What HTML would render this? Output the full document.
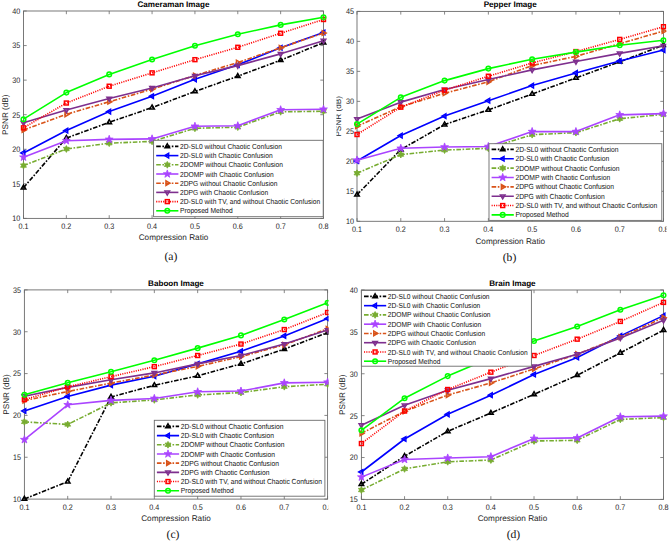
<!DOCTYPE html>
<html><head><meta charset="utf-8"><title>PSNR comparison</title>
<style>html,body{margin:0;padding:0;background:#fff;}svg{display:block;}text{text-rendering:geometricPrecision;}text{font-family:"Liberation Sans",sans-serif;fill:#1e1e1e;}.tl{font-size:7.2px;}.lg{font-size:6.8px;fill:#111;}.ti{font-size:8.1px;font-weight:bold;fill:#000;}.al{font-size:8.2px;}.cap{font-family:"Liberation Serif",serif;font-size:11.6px;fill:#111;}</style></head><body>
<svg width="669" height="542" viewBox="0 0 669 542">
<rect width="669" height="542" fill="#fff"/>
<clipPath id="cpa"><rect x="0" y="0" width="334" height="270"/></clipPath>
<g clip-path="url(#cpa)">
<rect x="23.5" y="11.0" width="300.00" height="207.40" fill="#fff" stroke="#6b6b6b" stroke-width="0.9"/>
<path d="M23.50,218.40v-3.2M23.50,11.00v3.2M66.36,218.40v-3.2M66.36,11.00v3.2M109.21,218.40v-3.2M109.21,11.00v3.2M152.07,218.40v-3.2M152.07,11.00v3.2M194.93,218.40v-3.2M194.93,11.00v3.2M237.79,218.40v-3.2M237.79,11.00v3.2M280.64,218.40v-3.2M280.64,11.00v3.2M323.50,218.40v-3.2M323.50,11.00v3.2M23.50,218.40h3.2M323.50,218.40h-3.2M23.50,183.83h3.2M323.50,183.83h-3.2M23.50,149.27h3.2M323.50,149.27h-3.2M23.50,114.70h3.2M323.50,114.70h-3.2M23.50,80.13h3.2M323.50,80.13h-3.2M23.50,45.57h3.2M323.50,45.57h-3.2M23.50,11.00h3.2M323.50,11.00h-3.2" stroke="#6b6b6b" stroke-width="0.8" fill="none"/>
<text transform="translate(23.50,229.3) scale(1,1.12)" class="tl" text-anchor="middle">0.1</text>
<text transform="translate(66.36,229.3) scale(1,1.12)" class="tl" text-anchor="middle">0.2</text>
<text transform="translate(109.21,229.3) scale(1,1.12)" class="tl" text-anchor="middle">0.3</text>
<text transform="translate(152.07,229.3) scale(1,1.12)" class="tl" text-anchor="middle">0.4</text>
<text transform="translate(194.93,229.3) scale(1,1.12)" class="tl" text-anchor="middle">0.5</text>
<text transform="translate(237.79,229.3) scale(1,1.12)" class="tl" text-anchor="middle">0.6</text>
<text transform="translate(280.64,229.3) scale(1,1.12)" class="tl" text-anchor="middle">0.7</text>
<text transform="translate(323.50,229.3) scale(1,1.12)" class="tl" text-anchor="middle">0.8</text>
<text transform="translate(20.3,221.30) scale(1,1.12)" class="tl" text-anchor="end">10</text>
<text transform="translate(20.3,186.73) scale(1,1.12)" class="tl" text-anchor="end">15</text>
<text transform="translate(20.3,152.17) scale(1,1.12)" class="tl" text-anchor="end">20</text>
<text transform="translate(20.3,117.60) scale(1,1.12)" class="tl" text-anchor="end">25</text>
<text transform="translate(20.3,83.03) scale(1,1.12)" class="tl" text-anchor="end">30</text>
<text transform="translate(20.3,48.47) scale(1,1.12)" class="tl" text-anchor="end">35</text>
<text transform="translate(20.3,13.90) scale(1,1.12)" class="tl" text-anchor="end">40</text>
<polyline points="23.50,187.70 66.36,138.07 109.21,122.37 152.07,107.58 194.93,91.47 237.79,76.19 280.64,60.22 323.50,42.66" fill="none" stroke="#000000" stroke-width="1.6" stroke-dasharray="4.6 1.6 1.6 1.6" stroke-linejoin="round"/>
<path d="M23.50,185.05 L25.79,189.03 L21.21,189.03 Z" fill="none" stroke="#000000" stroke-width="1.5" stroke-linejoin="miter"/>
<path d="M66.36,135.42 L68.65,139.39 L64.06,139.39 Z" fill="none" stroke="#000000" stroke-width="1.5" stroke-linejoin="miter"/>
<path d="M109.21,119.72 L111.51,123.70 L106.92,123.70 Z" fill="none" stroke="#000000" stroke-width="1.5" stroke-linejoin="miter"/>
<path d="M152.07,104.93 L154.37,108.90 L149.78,108.90 Z" fill="none" stroke="#000000" stroke-width="1.5" stroke-linejoin="miter"/>
<path d="M194.93,88.82 L197.22,92.80 L192.63,92.80 Z" fill="none" stroke="#000000" stroke-width="1.5" stroke-linejoin="miter"/>
<path d="M237.79,73.54 L240.08,77.52 L235.49,77.52 Z" fill="none" stroke="#000000" stroke-width="1.5" stroke-linejoin="miter"/>
<path d="M280.64,57.57 L282.94,61.55 L278.35,61.55 Z" fill="none" stroke="#000000" stroke-width="1.5" stroke-linejoin="miter"/>
<path d="M323.50,40.01 L325.79,43.99 L321.21,43.99 Z" fill="none" stroke="#000000" stroke-width="1.5" stroke-linejoin="miter"/>
<polyline points="23.50,152.93 66.36,130.53 109.21,111.59 152.07,96.24 194.93,79.30 237.79,64.79 280.64,47.78 323.50,32.50" fill="none" stroke="#0000FF" stroke-width="1.6" stroke-linejoin="round"/>
<path d="M20.85,152.93 L24.82,150.64 L24.82,155.23 Z" fill="none" stroke="#0000FF" stroke-width="1.5" stroke-linejoin="miter"/>
<path d="M63.71,130.53 L67.68,128.24 L67.68,132.83 Z" fill="none" stroke="#0000FF" stroke-width="1.5" stroke-linejoin="miter"/>
<path d="M106.56,111.59 L110.54,109.29 L110.54,113.88 Z" fill="none" stroke="#0000FF" stroke-width="1.5" stroke-linejoin="miter"/>
<path d="M149.42,96.24 L153.40,93.95 L153.40,98.54 Z" fill="none" stroke="#0000FF" stroke-width="1.5" stroke-linejoin="miter"/>
<path d="M192.28,79.30 L196.25,77.01 L196.25,81.60 Z" fill="none" stroke="#0000FF" stroke-width="1.5" stroke-linejoin="miter"/>
<path d="M235.14,64.79 L239.11,62.49 L239.11,67.08 Z" fill="none" stroke="#0000FF" stroke-width="1.5" stroke-linejoin="miter"/>
<path d="M277.99,47.78 L281.97,45.48 L281.97,50.07 Z" fill="none" stroke="#0000FF" stroke-width="1.5" stroke-linejoin="miter"/>
<path d="M320.85,32.50 L324.82,30.21 L324.82,34.80 Z" fill="none" stroke="#0000FF" stroke-width="1.5" stroke-linejoin="miter"/>
<polyline points="23.50,165.58 66.36,148.99 109.21,143.18 152.07,141.39 194.93,128.32 237.79,127.14 280.64,111.80 323.50,111.24" fill="none" stroke="#77AC30" stroke-width="1.6" stroke-dasharray="4.6 1.6 1.6 1.6" stroke-linejoin="round"/>
<path d="M23.50,162.18 L24.45,163.94 L26.44,163.88 L25.40,165.58 L26.44,167.28 L24.45,167.23 L23.50,168.98 L22.55,167.23 L20.56,167.28 L21.60,165.58 L20.56,163.88 L22.55,163.94 Z" fill="#77AC30" stroke="#77AC30" stroke-width="0.8" stroke-linejoin="miter"/>
<path d="M66.36,145.59 L67.31,147.34 L69.30,147.29 L68.26,148.99 L69.30,150.69 L67.31,150.64 L66.36,152.39 L65.41,150.64 L63.41,150.69 L64.46,148.99 L63.41,147.29 L65.41,147.34 Z" fill="#77AC30" stroke="#77AC30" stroke-width="0.8" stroke-linejoin="miter"/>
<path d="M109.21,139.78 L110.16,141.54 L112.16,141.48 L111.11,143.18 L112.16,144.88 L110.16,144.83 L109.21,146.58 L108.26,144.83 L106.27,144.88 L107.31,143.18 L106.27,141.48 L108.26,141.54 Z" fill="#77AC30" stroke="#77AC30" stroke-width="0.8" stroke-linejoin="miter"/>
<path d="M152.07,137.99 L153.02,139.74 L155.02,139.69 L153.97,141.39 L155.02,143.09 L153.02,143.03 L152.07,144.79 L151.12,143.03 L149.13,143.09 L150.17,141.39 L149.13,139.69 L151.12,139.74 Z" fill="#77AC30" stroke="#77AC30" stroke-width="0.8" stroke-linejoin="miter"/>
<path d="M194.93,124.92 L195.88,126.67 L197.87,126.62 L196.83,128.32 L197.87,130.02 L195.88,129.96 L194.93,131.72 L193.98,129.96 L191.98,130.02 L193.03,128.32 L191.98,126.62 L193.98,126.67 Z" fill="#77AC30" stroke="#77AC30" stroke-width="0.8" stroke-linejoin="miter"/>
<path d="M237.79,123.74 L238.74,125.50 L240.73,125.44 L239.69,127.14 L240.73,128.84 L238.74,128.79 L237.79,130.54 L236.84,128.79 L234.84,128.84 L235.89,127.14 L234.84,125.44 L236.84,125.50 Z" fill="#77AC30" stroke="#77AC30" stroke-width="0.8" stroke-linejoin="miter"/>
<path d="M280.64,108.40 L281.59,110.15 L283.59,110.10 L282.54,111.80 L283.59,113.50 L281.59,113.44 L280.64,115.20 L279.69,113.44 L277.70,113.50 L278.74,111.80 L277.70,110.10 L279.69,110.15 Z" fill="#77AC30" stroke="#77AC30" stroke-width="0.8" stroke-linejoin="miter"/>
<path d="M323.50,107.84 L324.45,109.60 L326.44,109.54 L325.40,111.24 L326.44,112.94 L324.45,112.89 L323.50,114.64 L322.55,112.89 L320.56,112.94 L321.60,111.24 L320.56,109.54 L322.55,109.60 Z" fill="#77AC30" stroke="#77AC30" stroke-width="0.8" stroke-linejoin="miter"/>
<polyline points="23.50,157.22 66.36,140.76 109.21,139.38 152.07,138.90 194.93,126.31 237.79,125.76 280.64,109.79 323.50,109.24" fill="none" stroke="#AA44FF" stroke-width="1.6" stroke-linejoin="round"/>
<path d="M23.50,153.12 L24.47,155.88 L27.40,155.95 L25.07,157.73 L25.91,160.53 L23.50,158.87 L21.09,160.53 L21.93,157.73 L19.60,155.95 L22.53,155.88 Z" fill="#AA44FF" stroke="#AA44FF" stroke-width="0.8" stroke-linejoin="miter"/>
<path d="M66.36,136.66 L67.33,139.43 L70.26,139.50 L67.93,141.27 L68.77,144.08 L66.36,142.41 L63.95,144.08 L64.79,141.27 L62.46,139.50 L65.39,139.43 Z" fill="#AA44FF" stroke="#AA44FF" stroke-width="0.8" stroke-linejoin="miter"/>
<path d="M109.21,135.28 L110.18,138.05 L113.11,138.11 L110.78,139.89 L111.62,142.70 L109.21,141.03 L106.80,142.70 L107.65,139.89 L105.31,138.11 L108.24,138.05 Z" fill="#AA44FF" stroke="#AA44FF" stroke-width="0.8" stroke-linejoin="miter"/>
<path d="M152.07,134.80 L153.04,137.56 L155.97,137.63 L153.64,139.41 L154.48,142.21 L152.07,140.55 L149.66,142.21 L150.50,139.41 L148.17,137.63 L151.10,137.56 Z" fill="#AA44FF" stroke="#AA44FF" stroke-width="0.8" stroke-linejoin="miter"/>
<path d="M194.93,122.21 L195.90,124.98 L198.83,125.05 L196.50,126.82 L197.34,129.63 L194.93,127.96 L192.52,129.63 L193.36,126.82 L191.03,125.05 L193.96,124.98 Z" fill="#AA44FF" stroke="#AA44FF" stroke-width="0.8" stroke-linejoin="miter"/>
<path d="M237.79,121.66 L238.76,124.43 L241.69,124.49 L239.35,126.27 L240.20,129.08 L237.79,127.41 L235.38,129.08 L236.22,126.27 L233.89,124.49 L236.82,124.43 Z" fill="#AA44FF" stroke="#AA44FF" stroke-width="0.8" stroke-linejoin="miter"/>
<path d="M280.64,105.69 L281.61,108.46 L284.54,108.52 L282.21,110.30 L283.05,113.11 L280.64,111.44 L278.23,113.11 L279.07,110.30 L276.74,108.52 L279.67,108.46 Z" fill="#AA44FF" stroke="#AA44FF" stroke-width="0.8" stroke-linejoin="miter"/>
<path d="M323.50,105.14 L324.47,107.90 L327.40,107.97 L325.07,109.75 L325.91,112.56 L323.50,110.89 L321.09,112.56 L321.93,109.75 L319.60,107.97 L322.53,107.90 Z" fill="#AA44FF" stroke="#AA44FF" stroke-width="0.8" stroke-linejoin="miter"/>
<polyline points="23.50,129.98 66.36,114.29 109.21,101.77 152.07,89.19 194.93,75.50 237.79,62.50 280.64,47.78 323.50,32.98" fill="none" stroke="#D95319" stroke-width="1.6" stroke-dasharray="4.6 1.6 1.6 1.6" stroke-linejoin="round"/>
<path d="M26.15,129.98 L22.18,132.27 L22.17,127.68 Z" fill="none" stroke="#D95319" stroke-width="1.5" stroke-linejoin="miter"/>
<path d="M69.01,114.29 L65.03,116.58 L65.03,111.99 Z" fill="none" stroke="#D95319" stroke-width="1.5" stroke-linejoin="miter"/>
<path d="M111.86,101.77 L107.89,104.07 L107.89,99.48 Z" fill="none" stroke="#D95319" stroke-width="1.5" stroke-linejoin="miter"/>
<path d="M154.72,89.19 L150.75,91.48 L150.75,86.89 Z" fill="none" stroke="#D95319" stroke-width="1.5" stroke-linejoin="miter"/>
<path d="M197.58,75.50 L193.60,77.80 L193.60,73.21 Z" fill="none" stroke="#D95319" stroke-width="1.5" stroke-linejoin="miter"/>
<path d="M240.44,62.50 L236.46,64.80 L236.46,60.21 Z" fill="none" stroke="#D95319" stroke-width="1.5" stroke-linejoin="miter"/>
<path d="M283.29,47.78 L279.32,50.07 L279.32,45.48 Z" fill="none" stroke="#D95319" stroke-width="1.5" stroke-linejoin="miter"/>
<path d="M326.15,32.98 L322.18,35.28 L322.18,30.69 Z" fill="none" stroke="#D95319" stroke-width="1.5" stroke-linejoin="miter"/>
<polyline points="23.50,122.79 66.36,110.00 109.21,98.52 152.07,87.95 194.93,75.71 237.79,65.62 280.64,53.86 323.50,40.66" fill="none" stroke="#7E2F8E" stroke-width="1.6" stroke-linejoin="round"/>
<path d="M23.50,125.44 L21.21,121.46 L25.79,121.46 Z" fill="none" stroke="#7E2F8E" stroke-width="1.5" stroke-linejoin="miter"/>
<path d="M66.36,112.65 L64.06,108.67 L68.65,108.67 Z" fill="none" stroke="#7E2F8E" stroke-width="1.5" stroke-linejoin="miter"/>
<path d="M109.21,101.17 L106.92,97.20 L111.51,97.20 Z" fill="none" stroke="#7E2F8E" stroke-width="1.5" stroke-linejoin="miter"/>
<path d="M152.07,90.60 L149.78,86.62 L154.37,86.62 Z" fill="none" stroke="#7E2F8E" stroke-width="1.5" stroke-linejoin="miter"/>
<path d="M194.93,78.36 L192.63,74.38 L197.22,74.38 Z" fill="none" stroke="#7E2F8E" stroke-width="1.5" stroke-linejoin="miter"/>
<path d="M237.79,68.27 L235.49,64.29 L240.08,64.29 Z" fill="none" stroke="#7E2F8E" stroke-width="1.5" stroke-linejoin="miter"/>
<path d="M280.64,56.51 L278.35,52.54 L282.94,52.54 Z" fill="none" stroke="#7E2F8E" stroke-width="1.5" stroke-linejoin="miter"/>
<path d="M323.50,43.31 L321.21,39.33 L325.79,39.33 Z" fill="none" stroke="#7E2F8E" stroke-width="1.5" stroke-linejoin="miter"/>
<polyline points="23.50,127.84 66.36,103.02 109.21,86.22 152.07,72.87 194.93,59.67 237.79,47.29 280.64,33.26 323.50,19.50" fill="none" stroke="#FF0000" stroke-width="1.6" stroke-dasharray="1.1 1.2" stroke-linejoin="round"/>
<rect x="21.55" y="125.89" width="3.90" height="3.90" fill="none" stroke="#FF0000" stroke-width="1.5"/>
<rect x="64.41" y="101.07" width="3.90" height="3.90" fill="none" stroke="#FF0000" stroke-width="1.5"/>
<rect x="107.26" y="84.27" width="3.90" height="3.90" fill="none" stroke="#FF0000" stroke-width="1.5"/>
<rect x="150.12" y="70.92" width="3.90" height="3.90" fill="none" stroke="#FF0000" stroke-width="1.5"/>
<rect x="192.98" y="57.72" width="3.90" height="3.90" fill="none" stroke="#FF0000" stroke-width="1.5"/>
<rect x="235.84" y="45.34" width="3.90" height="3.90" fill="none" stroke="#FF0000" stroke-width="1.5"/>
<rect x="278.69" y="31.31" width="3.90" height="3.90" fill="none" stroke="#FF0000" stroke-width="1.5"/>
<rect x="321.55" y="17.55" width="3.90" height="3.90" fill="none" stroke="#FF0000" stroke-width="1.5"/>
<polyline points="23.50,119.19 66.36,92.58 109.21,74.40 152.07,59.46 194.93,45.70 237.79,34.30 280.64,24.90 323.50,17.29" fill="none" stroke="#00FF00" stroke-width="1.6" stroke-linejoin="round"/>
<circle cx="23.50" cy="119.19" r="2.30" fill="none" stroke="#00FF00" stroke-width="1.5"/>
<circle cx="66.36" cy="92.58" r="2.30" fill="none" stroke="#00FF00" stroke-width="1.5"/>
<circle cx="109.21" cy="74.40" r="2.30" fill="none" stroke="#00FF00" stroke-width="1.5"/>
<circle cx="152.07" cy="59.46" r="2.30" fill="none" stroke="#00FF00" stroke-width="1.5"/>
<circle cx="194.93" cy="45.70" r="2.30" fill="none" stroke="#00FF00" stroke-width="1.5"/>
<circle cx="237.79" cy="34.30" r="2.30" fill="none" stroke="#00FF00" stroke-width="1.5"/>
<circle cx="280.64" cy="24.90" r="2.30" fill="none" stroke="#00FF00" stroke-width="1.5"/>
<circle cx="323.50" cy="17.29" r="2.30" fill="none" stroke="#00FF00" stroke-width="1.5"/>
<rect x="153.6" y="140.3" width="169.60" height="76.40" fill="#fff" stroke="#6b6b6b" stroke-width="0.9"/>
<line x1="156.20" y1="146.40" x2="178.40" y2="146.40" stroke="#000000" stroke-width="1.6" stroke-dasharray="4.6 1.6 1.6 1.6"/>
<path d="M167.30,143.75 L169.59,147.72 L165.01,147.72 Z" fill="none" stroke="#000000" stroke-width="1.5" stroke-linejoin="miter"/>
<text transform="translate(180.00,148.95) scale(1,1.1)" class="lg" style="font-size:6.68px">2D-SL0 without Chaotic Confusion</text>
<line x1="156.20" y1="155.60" x2="178.40" y2="155.60" stroke="#0000FF" stroke-width="1.6"/>
<path d="M164.65,155.60 L168.62,153.31 L168.62,157.89 Z" fill="none" stroke="#0000FF" stroke-width="1.5" stroke-linejoin="miter"/>
<text transform="translate(180.00,158.15) scale(1,1.1)" class="lg" style="font-size:6.68px">2D-SL0 with Chaotic Confusion</text>
<line x1="156.20" y1="164.80" x2="178.40" y2="164.80" stroke="#77AC30" stroke-width="1.6" stroke-dasharray="4.6 1.6 1.6 1.6"/>
<path d="M167.30,161.40 L168.25,163.15 L170.24,163.10 L169.20,164.80 L170.24,166.50 L168.25,166.45 L167.30,168.20 L166.35,166.45 L164.36,166.50 L165.40,164.80 L164.36,163.10 L166.35,163.15 Z" fill="#77AC30" stroke="#77AC30" stroke-width="0.8" stroke-linejoin="miter"/>
<text transform="translate(180.00,167.35) scale(1,1.1)" class="lg" style="font-size:6.68px">2DOMP without Chaotic Confusion</text>
<line x1="156.20" y1="174.00" x2="178.40" y2="174.00" stroke="#AA44FF" stroke-width="1.6"/>
<path d="M167.30,169.90 L168.27,172.67 L171.20,172.73 L168.87,174.51 L169.71,177.32 L167.30,175.65 L164.89,177.32 L165.73,174.51 L163.40,172.73 L166.33,172.67 Z" fill="#AA44FF" stroke="#AA44FF" stroke-width="0.8" stroke-linejoin="miter"/>
<text transform="translate(180.00,176.55) scale(1,1.1)" class="lg" style="font-size:6.68px">2DOMP with Chaotic Confusion</text>
<line x1="156.20" y1="183.20" x2="178.40" y2="183.20" stroke="#D95319" stroke-width="1.6" stroke-dasharray="4.6 1.6 1.6 1.6"/>
<path d="M169.95,183.20 L165.98,185.49 L165.98,180.91 Z" fill="none" stroke="#D95319" stroke-width="1.5" stroke-linejoin="miter"/>
<text transform="translate(180.00,185.75) scale(1,1.1)" class="lg" style="font-size:6.68px">2DPG without Chaotic Confusion</text>
<line x1="156.20" y1="192.40" x2="178.40" y2="192.40" stroke="#7E2F8E" stroke-width="1.6"/>
<path d="M167.30,195.05 L165.01,191.08 L169.59,191.08 Z" fill="none" stroke="#7E2F8E" stroke-width="1.5" stroke-linejoin="miter"/>
<text transform="translate(180.00,194.95) scale(1,1.1)" class="lg" style="font-size:6.68px">2DPG with Chaotic Confusion</text>
<line x1="156.20" y1="201.60" x2="178.40" y2="201.60" stroke="#FF0000" stroke-width="1.6" stroke-dasharray="1.1 1.2"/>
<rect x="165.35" y="199.65" width="3.90" height="3.90" fill="none" stroke="#FF0000" stroke-width="1.5"/>
<text transform="translate(180.00,204.15) scale(1,1.1)" class="lg" style="font-size:6.68px">2D-SL0 with TV, and without Chaotic Confusion</text>
<line x1="156.20" y1="210.80" x2="178.40" y2="210.80" stroke="#00FF00" stroke-width="1.6"/>
<circle cx="167.30" cy="210.80" r="2.30" fill="none" stroke="#00FF00" stroke-width="1.5"/>
<text transform="translate(180.00,213.35) scale(1,1.1)" class="lg" style="font-size:6.68px">Proposed Method</text>
<text x="173.50" y="6.5" class="ti" text-anchor="middle">Cameraman Image</text>
<text x="173.50" y="239.9" class="al" text-anchor="middle">Compression Ratio</text>
<text x="0" y="0" class="al" text-anchor="middle" transform="translate(7.5,114.70) rotate(-90)">PSNR (dB)</text>
</g>
<text x="170.85" y="260.2" class="cap" text-anchor="middle">(a)</text>
<clipPath id="cpb"><rect x="336.4" y="0" width="330.1" height="270"/></clipPath>
<g clip-path="url(#cpb)">
<rect x="357.0" y="11.4" width="306.50" height="209.90" fill="#fff" stroke="#6b6b6b" stroke-width="0.9"/>
<path d="M357.00,221.30v-3.2M357.00,11.40v3.2M400.79,221.30v-3.2M400.79,11.40v3.2M444.57,221.30v-3.2M444.57,11.40v3.2M488.36,221.30v-3.2M488.36,11.40v3.2M532.14,221.30v-3.2M532.14,11.40v3.2M575.93,221.30v-3.2M575.93,11.40v3.2M619.71,221.30v-3.2M619.71,11.40v3.2M663.50,221.30v-3.2M663.50,11.40v3.2M357.00,221.30h3.2M663.50,221.30h-3.2M357.00,191.31h3.2M663.50,191.31h-3.2M357.00,161.33h3.2M663.50,161.33h-3.2M357.00,131.34h3.2M663.50,131.34h-3.2M357.00,101.36h3.2M663.50,101.36h-3.2M357.00,71.37h3.2M663.50,71.37h-3.2M357.00,41.39h3.2M663.50,41.39h-3.2M357.00,11.40h3.2M663.50,11.40h-3.2" stroke="#6b6b6b" stroke-width="0.8" fill="none"/>
<text transform="translate(357.00,232.2) scale(1,1.12)" class="tl" text-anchor="middle">0.1</text>
<text transform="translate(400.79,232.2) scale(1,1.12)" class="tl" text-anchor="middle">0.2</text>
<text transform="translate(444.57,232.2) scale(1,1.12)" class="tl" text-anchor="middle">0.3</text>
<text transform="translate(488.36,232.2) scale(1,1.12)" class="tl" text-anchor="middle">0.4</text>
<text transform="translate(532.14,232.2) scale(1,1.12)" class="tl" text-anchor="middle">0.5</text>
<text transform="translate(575.93,232.2) scale(1,1.12)" class="tl" text-anchor="middle">0.6</text>
<text transform="translate(619.71,232.2) scale(1,1.12)" class="tl" text-anchor="middle">0.7</text>
<text transform="translate(663.50,232.2) scale(1,1.12)" class="tl" text-anchor="middle">0.8</text>
<text transform="translate(354.0,224.20) scale(1,1.12)" class="tl" text-anchor="end">10</text>
<text transform="translate(354.0,194.21) scale(1,1.12)" class="tl" text-anchor="end">15</text>
<text transform="translate(354.0,164.23) scale(1,1.12)" class="tl" text-anchor="end">20</text>
<text transform="translate(354.0,134.24) scale(1,1.12)" class="tl" text-anchor="end">25</text>
<text transform="translate(354.0,104.26) scale(1,1.12)" class="tl" text-anchor="end">30</text>
<text transform="translate(354.0,74.27) scale(1,1.12)" class="tl" text-anchor="end">35</text>
<text transform="translate(354.0,44.29) scale(1,1.12)" class="tl" text-anchor="end">40</text>
<text transform="translate(354.0,14.30) scale(1,1.12)" class="tl" text-anchor="end">45</text>
<polyline points="357.00,194.79 400.79,149.57 444.57,124.63 488.36,109.93 532.14,94.04 575.93,77.97 619.71,61.78 663.50,45.22" fill="none" stroke="#000000" stroke-width="1.6" stroke-dasharray="4.6 1.6 1.6 1.6" stroke-linejoin="round"/>
<path d="M357.00,192.14 L359.29,196.12 L354.71,196.12 Z" fill="none" stroke="#000000" stroke-width="1.5" stroke-linejoin="miter"/>
<path d="M400.79,146.92 L403.08,150.90 L398.49,150.90 Z" fill="none" stroke="#000000" stroke-width="1.5" stroke-linejoin="miter"/>
<path d="M444.57,121.98 L446.87,125.95 L442.28,125.95 Z" fill="none" stroke="#000000" stroke-width="1.5" stroke-linejoin="miter"/>
<path d="M488.36,107.28 L490.65,111.26 L486.06,111.26 Z" fill="none" stroke="#000000" stroke-width="1.5" stroke-linejoin="miter"/>
<path d="M532.14,91.39 L534.44,95.37 L529.85,95.37 Z" fill="none" stroke="#000000" stroke-width="1.5" stroke-linejoin="miter"/>
<path d="M575.93,75.32 L578.22,79.29 L573.63,79.29 Z" fill="none" stroke="#000000" stroke-width="1.5" stroke-linejoin="miter"/>
<path d="M619.71,59.13 L622.01,63.10 L617.42,63.10 Z" fill="none" stroke="#000000" stroke-width="1.5" stroke-linejoin="miter"/>
<path d="M663.50,42.57 L665.79,46.55 L661.21,46.55 Z" fill="none" stroke="#000000" stroke-width="1.5" stroke-linejoin="miter"/>
<polyline points="357.00,161.03 400.79,135.54 444.57,116.05 488.36,100.70 532.14,85.58 575.93,72.93 619.71,61.00 663.50,50.08" fill="none" stroke="#0000FF" stroke-width="1.6" stroke-linejoin="round"/>
<path d="M354.35,161.03 L358.32,158.73 L358.32,163.32 Z" fill="none" stroke="#0000FF" stroke-width="1.5" stroke-linejoin="miter"/>
<path d="M398.14,135.54 L402.11,133.25 L402.11,137.84 Z" fill="none" stroke="#0000FF" stroke-width="1.5" stroke-linejoin="miter"/>
<path d="M441.92,116.05 L445.90,113.76 L445.90,118.35 Z" fill="none" stroke="#0000FF" stroke-width="1.5" stroke-linejoin="miter"/>
<path d="M485.71,100.70 L489.68,98.40 L489.68,102.99 Z" fill="none" stroke="#0000FF" stroke-width="1.5" stroke-linejoin="miter"/>
<path d="M529.49,85.58 L533.47,83.29 L533.47,87.88 Z" fill="none" stroke="#0000FF" stroke-width="1.5" stroke-linejoin="miter"/>
<path d="M573.28,72.93 L577.25,70.64 L577.25,75.23 Z" fill="none" stroke="#0000FF" stroke-width="1.5" stroke-linejoin="miter"/>
<path d="M617.06,61.00 L621.04,58.70 L621.04,63.29 Z" fill="none" stroke="#0000FF" stroke-width="1.5" stroke-linejoin="miter"/>
<path d="M660.85,50.08 L664.83,47.79 L664.83,52.38 Z" fill="none" stroke="#0000FF" stroke-width="1.5" stroke-linejoin="miter"/>
<polyline points="357.00,173.20 400.79,154.61 444.57,150.11 488.36,148.31 532.14,134.70 575.93,132.66 619.71,118.75 663.50,114.37" fill="none" stroke="#77AC30" stroke-width="1.6" stroke-dasharray="4.6 1.6 1.6 1.6" stroke-linejoin="round"/>
<path d="M357.00,169.80 L357.95,171.56 L359.94,171.50 L358.90,173.20 L359.94,174.90 L357.95,174.85 L357.00,176.60 L356.05,174.85 L354.06,174.90 L355.10,173.20 L354.06,171.50 L356.05,171.56 Z" fill="#77AC30" stroke="#77AC30" stroke-width="0.8" stroke-linejoin="miter"/>
<path d="M400.79,151.21 L401.74,152.97 L403.73,152.91 L402.69,154.61 L403.73,156.31 L401.74,156.26 L400.79,158.01 L399.84,156.26 L397.84,156.31 L398.89,154.61 L397.84,152.91 L399.84,152.97 Z" fill="#77AC30" stroke="#77AC30" stroke-width="0.8" stroke-linejoin="miter"/>
<path d="M444.57,146.71 L445.52,148.47 L447.52,148.41 L446.47,150.11 L447.52,151.81 L445.52,151.76 L444.57,153.51 L443.62,151.76 L441.63,151.81 L442.67,150.11 L441.63,148.41 L443.62,148.47 Z" fill="#77AC30" stroke="#77AC30" stroke-width="0.8" stroke-linejoin="miter"/>
<path d="M488.36,144.91 L489.31,146.67 L491.30,146.61 L490.26,148.31 L491.30,150.01 L489.31,149.96 L488.36,151.71 L487.41,149.96 L485.41,150.01 L486.46,148.31 L485.41,146.61 L487.41,146.67 Z" fill="#77AC30" stroke="#77AC30" stroke-width="0.8" stroke-linejoin="miter"/>
<path d="M532.14,131.30 L533.09,133.06 L535.09,133.00 L534.04,134.70 L535.09,136.40 L533.09,136.35 L532.14,138.10 L531.19,136.35 L529.20,136.40 L530.24,134.70 L529.20,133.00 L531.19,133.06 Z" fill="#77AC30" stroke="#77AC30" stroke-width="0.8" stroke-linejoin="miter"/>
<path d="M575.93,129.26 L576.88,131.02 L578.87,130.96 L577.83,132.66 L578.87,134.36 L576.88,134.31 L575.93,136.06 L574.98,134.31 L572.98,134.36 L574.03,132.66 L572.98,130.96 L574.98,131.02 Z" fill="#77AC30" stroke="#77AC30" stroke-width="0.8" stroke-linejoin="miter"/>
<path d="M619.71,115.35 L620.66,117.10 L622.66,117.05 L621.61,118.75 L622.66,120.45 L620.66,120.39 L619.71,122.15 L618.76,120.39 L616.77,120.45 L617.81,118.75 L616.77,117.05 L618.76,117.10 Z" fill="#77AC30" stroke="#77AC30" stroke-width="0.8" stroke-linejoin="miter"/>
<path d="M663.50,110.97 L664.45,112.73 L666.44,112.67 L665.40,114.37 L666.44,116.07 L664.45,116.02 L663.50,117.77 L662.55,116.02 L660.56,116.07 L661.60,114.37 L660.56,112.67 L662.55,112.73 Z" fill="#77AC30" stroke="#77AC30" stroke-width="0.8" stroke-linejoin="miter"/>
<polyline points="357.00,160.19 400.79,148.31 444.57,147.00 488.36,146.52 532.14,131.58 575.93,131.58 619.71,114.85 663.50,113.59" fill="none" stroke="#AA44FF" stroke-width="1.6" stroke-linejoin="round"/>
<path d="M357.00,156.09 L357.97,158.85 L360.90,158.92 L358.57,160.70 L359.41,163.51 L357.00,161.84 L354.59,163.51 L355.43,160.70 L353.10,158.92 L356.03,158.85 Z" fill="#AA44FF" stroke="#AA44FF" stroke-width="0.8" stroke-linejoin="miter"/>
<path d="M400.79,144.21 L401.76,146.98 L404.69,147.05 L402.35,148.82 L403.20,151.63 L400.79,149.96 L398.38,151.63 L399.22,148.82 L396.89,147.05 L399.82,146.98 Z" fill="#AA44FF" stroke="#AA44FF" stroke-width="0.8" stroke-linejoin="miter"/>
<path d="M444.57,142.90 L445.54,145.66 L448.47,145.73 L446.14,147.51 L446.98,150.31 L444.57,148.65 L442.16,150.31 L443.00,147.51 L440.67,145.73 L443.60,145.66 Z" fill="#AA44FF" stroke="#AA44FF" stroke-width="0.8" stroke-linejoin="miter"/>
<path d="M488.36,142.42 L489.33,145.18 L492.26,145.25 L489.93,147.03 L490.77,149.83 L488.36,148.17 L485.95,149.83 L486.79,147.03 L484.46,145.25 L487.39,145.18 Z" fill="#AA44FF" stroke="#AA44FF" stroke-width="0.8" stroke-linejoin="miter"/>
<path d="M532.14,127.48 L533.11,130.25 L536.04,130.32 L533.71,132.09 L534.55,134.90 L532.14,133.23 L529.73,134.90 L530.57,132.09 L528.24,130.32 L531.17,130.25 Z" fill="#AA44FF" stroke="#AA44FF" stroke-width="0.8" stroke-linejoin="miter"/>
<path d="M575.93,127.48 L576.90,130.25 L579.83,130.32 L577.50,132.09 L578.34,134.90 L575.93,133.23 L573.52,134.90 L574.36,132.09 L572.03,130.32 L574.96,130.25 Z" fill="#AA44FF" stroke="#AA44FF" stroke-width="0.8" stroke-linejoin="miter"/>
<path d="M619.71,110.75 L620.68,113.52 L623.61,113.58 L621.28,115.36 L622.12,118.17 L619.71,116.50 L617.30,118.17 L618.15,115.36 L615.81,113.58 L618.74,113.52 Z" fill="#AA44FF" stroke="#AA44FF" stroke-width="0.8" stroke-linejoin="miter"/>
<path d="M663.50,109.49 L664.47,112.26 L667.40,112.32 L665.07,114.10 L665.91,116.91 L663.50,115.24 L661.09,116.91 L661.93,114.10 L659.60,112.32 L662.53,112.26 Z" fill="#AA44FF" stroke="#AA44FF" stroke-width="0.8" stroke-linejoin="miter"/>
<polyline points="357.00,126.25 400.79,106.75 444.57,93.26 488.36,81.81 532.14,65.55 575.93,56.38 619.71,43.72 663.50,31.01" fill="none" stroke="#D95319" stroke-width="1.6" stroke-dasharray="4.6 1.6 1.6 1.6" stroke-linejoin="round"/>
<path d="M359.65,126.25 L355.68,128.54 L355.68,123.95 Z" fill="none" stroke="#D95319" stroke-width="1.5" stroke-linejoin="miter"/>
<path d="M403.44,106.75 L399.46,109.05 L399.46,104.46 Z" fill="none" stroke="#D95319" stroke-width="1.5" stroke-linejoin="miter"/>
<path d="M447.22,93.26 L443.25,95.56 L443.25,90.97 Z" fill="none" stroke="#D95319" stroke-width="1.5" stroke-linejoin="miter"/>
<path d="M491.01,81.81 L487.03,84.10 L487.03,79.51 Z" fill="none" stroke="#D95319" stroke-width="1.5" stroke-linejoin="miter"/>
<path d="M534.79,65.55 L530.82,67.85 L530.82,63.26 Z" fill="none" stroke="#D95319" stroke-width="1.5" stroke-linejoin="miter"/>
<path d="M578.58,56.38 L574.60,58.67 L574.60,54.08 Z" fill="none" stroke="#D95319" stroke-width="1.5" stroke-linejoin="miter"/>
<path d="M622.36,43.72 L618.39,46.02 L618.39,41.43 Z" fill="none" stroke="#D95319" stroke-width="1.5" stroke-linejoin="miter"/>
<path d="M666.15,31.01 L662.17,33.31 L662.17,28.72 Z" fill="none" stroke="#D95319" stroke-width="1.5" stroke-linejoin="miter"/>
<polyline points="357.00,119.05 400.79,102.14 444.57,89.48 488.36,79.53 532.14,69.87 575.93,61.48 619.71,53.38 663.50,45.70" fill="none" stroke="#7E2F8E" stroke-width="1.6" stroke-linejoin="round"/>
<path d="M357.00,121.70 L354.71,117.72 L359.29,117.72 Z" fill="none" stroke="#7E2F8E" stroke-width="1.5" stroke-linejoin="miter"/>
<path d="M400.79,104.79 L398.49,100.81 L403.08,100.81 Z" fill="none" stroke="#7E2F8E" stroke-width="1.5" stroke-linejoin="miter"/>
<path d="M444.57,92.13 L442.28,88.16 L446.87,88.16 Z" fill="none" stroke="#7E2F8E" stroke-width="1.5" stroke-linejoin="miter"/>
<path d="M488.36,82.18 L486.06,78.20 L490.65,78.20 Z" fill="none" stroke="#7E2F8E" stroke-width="1.5" stroke-linejoin="miter"/>
<path d="M532.14,72.52 L529.85,68.55 L534.44,68.55 Z" fill="none" stroke="#7E2F8E" stroke-width="1.5" stroke-linejoin="miter"/>
<path d="M575.93,64.13 L573.63,60.15 L578.22,60.15 Z" fill="none" stroke="#7E2F8E" stroke-width="1.5" stroke-linejoin="miter"/>
<path d="M619.71,56.03 L617.42,52.06 L622.01,52.06 Z" fill="none" stroke="#7E2F8E" stroke-width="1.5" stroke-linejoin="miter"/>
<path d="M663.50,48.35 L661.21,44.38 L665.79,44.38 Z" fill="none" stroke="#7E2F8E" stroke-width="1.5" stroke-linejoin="miter"/>
<polyline points="357.00,134.52 400.79,107.17 444.57,90.20 488.36,76.23 532.14,62.98 575.93,51.58 619.71,39.41 663.50,26.69" fill="none" stroke="#FF0000" stroke-width="1.6" stroke-dasharray="1.1 1.2" stroke-linejoin="round"/>
<rect x="355.05" y="132.57" width="3.90" height="3.90" fill="none" stroke="#FF0000" stroke-width="1.5"/>
<rect x="398.84" y="105.22" width="3.90" height="3.90" fill="none" stroke="#FF0000" stroke-width="1.5"/>
<rect x="442.62" y="88.25" width="3.90" height="3.90" fill="none" stroke="#FF0000" stroke-width="1.5"/>
<rect x="486.41" y="74.28" width="3.90" height="3.90" fill="none" stroke="#FF0000" stroke-width="1.5"/>
<rect x="530.19" y="61.03" width="3.90" height="3.90" fill="none" stroke="#FF0000" stroke-width="1.5"/>
<rect x="573.98" y="49.63" width="3.90" height="3.90" fill="none" stroke="#FF0000" stroke-width="1.5"/>
<rect x="617.76" y="37.46" width="3.90" height="3.90" fill="none" stroke="#FF0000" stroke-width="1.5"/>
<rect x="661.55" y="24.74" width="3.90" height="3.90" fill="none" stroke="#FF0000" stroke-width="1.5"/>
<polyline points="357.00,124.09 400.79,97.34 444.57,80.61 488.36,68.61 532.14,59.20 575.93,52.12 619.71,45.22 663.50,40.19" fill="none" stroke="#00FF00" stroke-width="1.6" stroke-linejoin="round"/>
<circle cx="357.00" cy="124.09" r="2.30" fill="none" stroke="#00FF00" stroke-width="1.5"/>
<circle cx="400.79" cy="97.34" r="2.30" fill="none" stroke="#00FF00" stroke-width="1.5"/>
<circle cx="444.57" cy="80.61" r="2.30" fill="none" stroke="#00FF00" stroke-width="1.5"/>
<circle cx="488.36" cy="68.61" r="2.30" fill="none" stroke="#00FF00" stroke-width="1.5"/>
<circle cx="532.14" cy="59.20" r="2.30" fill="none" stroke="#00FF00" stroke-width="1.5"/>
<circle cx="575.93" cy="52.12" r="2.30" fill="none" stroke="#00FF00" stroke-width="1.5"/>
<circle cx="619.71" cy="45.22" r="2.30" fill="none" stroke="#00FF00" stroke-width="1.5"/>
<circle cx="663.50" cy="40.19" r="2.30" fill="none" stroke="#00FF00" stroke-width="1.5"/>
<rect x="489.0" y="143.7" width="172.80" height="76.70" fill="#fff" stroke="#6b6b6b" stroke-width="0.9"/>
<line x1="491.60" y1="149.40" x2="513.80" y2="149.40" stroke="#000000" stroke-width="1.6" stroke-dasharray="4.6 1.6 1.6 1.6"/>
<path d="M502.70,146.75 L504.99,150.72 L500.41,150.72 Z" fill="none" stroke="#000000" stroke-width="1.5" stroke-linejoin="miter"/>
<text transform="translate(515.40,151.95) scale(1,1.1)" class="lg" style="font-size:6.76px">2D-SL0 without Chaotic Confusion</text>
<line x1="491.60" y1="158.76" x2="513.80" y2="158.76" stroke="#0000FF" stroke-width="1.6"/>
<path d="M500.05,158.76 L504.02,156.47 L504.02,161.05 Z" fill="none" stroke="#0000FF" stroke-width="1.5" stroke-linejoin="miter"/>
<text transform="translate(515.40,161.31) scale(1,1.1)" class="lg" style="font-size:6.76px">2D-SL0 with Chaotic Confusion</text>
<line x1="491.60" y1="168.12" x2="513.80" y2="168.12" stroke="#77AC30" stroke-width="1.6" stroke-dasharray="4.6 1.6 1.6 1.6"/>
<path d="M502.70,164.72 L503.65,166.47 L505.64,166.42 L504.60,168.12 L505.64,169.82 L503.65,169.77 L502.70,171.52 L501.75,169.77 L499.76,169.82 L500.80,168.12 L499.76,166.42 L501.75,166.47 Z" fill="#77AC30" stroke="#77AC30" stroke-width="0.8" stroke-linejoin="miter"/>
<text transform="translate(515.40,170.67) scale(1,1.1)" class="lg" style="font-size:6.76px">2DOMP without Chaotic Confusion</text>
<line x1="491.60" y1="177.48" x2="513.80" y2="177.48" stroke="#AA44FF" stroke-width="1.6"/>
<path d="M502.70,173.38 L503.67,176.15 L506.60,176.21 L504.27,177.99 L505.11,180.80 L502.70,179.13 L500.29,180.80 L501.13,177.99 L498.80,176.21 L501.73,176.15 Z" fill="#AA44FF" stroke="#AA44FF" stroke-width="0.8" stroke-linejoin="miter"/>
<text transform="translate(515.40,180.03) scale(1,1.1)" class="lg" style="font-size:6.76px">2DOMP with Chaotic Confusion</text>
<line x1="491.60" y1="186.84" x2="513.80" y2="186.84" stroke="#D95319" stroke-width="1.6" stroke-dasharray="4.6 1.6 1.6 1.6"/>
<path d="M505.35,186.84 L501.38,189.13 L501.38,184.55 Z" fill="none" stroke="#D95319" stroke-width="1.5" stroke-linejoin="miter"/>
<text transform="translate(515.40,189.39) scale(1,1.1)" class="lg" style="font-size:6.76px">2DPG without Chaotic Confusion</text>
<line x1="491.60" y1="196.20" x2="513.80" y2="196.20" stroke="#7E2F8E" stroke-width="1.6"/>
<path d="M502.70,198.85 L500.41,194.88 L504.99,194.88 Z" fill="none" stroke="#7E2F8E" stroke-width="1.5" stroke-linejoin="miter"/>
<text transform="translate(515.40,198.75) scale(1,1.1)" class="lg" style="font-size:6.76px">2DPG with Chaotic Confusion</text>
<line x1="491.60" y1="205.56" x2="513.80" y2="205.56" stroke="#FF0000" stroke-width="1.6" stroke-dasharray="1.1 1.2"/>
<rect x="500.75" y="203.61" width="3.90" height="3.90" fill="none" stroke="#FF0000" stroke-width="1.5"/>
<text transform="translate(515.40,208.11) scale(1,1.1)" class="lg" style="font-size:6.76px">2D-SL0 with TV, and without Chaotic Confusion</text>
<line x1="491.60" y1="214.92" x2="513.80" y2="214.92" stroke="#00FF00" stroke-width="1.6"/>
<circle cx="502.70" cy="214.92" r="2.30" fill="none" stroke="#00FF00" stroke-width="1.5"/>
<text transform="translate(515.40,217.47) scale(1,1.1)" class="lg" style="font-size:6.76px">Proposed Method</text>
<text x="510.25" y="7.3" class="ti" text-anchor="middle">Pepper Image</text>
<text x="510.25" y="244.0" class="al" text-anchor="middle">Compression Ratio</text>
<text x="0" y="0" class="al" text-anchor="middle" transform="translate(341.2,116.35) rotate(-90)">PSNR (dB)</text>
</g>
<text x="509.5" y="260.6" class="cap" text-anchor="middle">(b)</text>
<clipPath id="cpc"><rect x="0" y="270" width="328.6" height="272"/></clipPath>
<g clip-path="url(#cpc)">
<rect x="24.4" y="289.9" width="303.20" height="209.20" fill="#fff" stroke="#6b6b6b" stroke-width="0.9"/>
<path d="M24.40,499.10v-3.2M24.40,289.90v3.2M67.71,499.10v-3.2M67.71,289.90v3.2M111.03,499.10v-3.2M111.03,289.90v3.2M154.34,499.10v-3.2M154.34,289.90v3.2M197.66,499.10v-3.2M197.66,289.90v3.2M240.97,499.10v-3.2M240.97,289.90v3.2M284.29,499.10v-3.2M284.29,289.90v3.2M327.60,499.10v-3.2M327.60,289.90v3.2M24.40,499.10h3.2M327.60,499.10h-3.2M24.40,457.26h3.2M327.60,457.26h-3.2M24.40,415.42h3.2M327.60,415.42h-3.2M24.40,373.58h3.2M327.60,373.58h-3.2M24.40,331.74h3.2M327.60,331.74h-3.2M24.40,289.90h3.2M327.60,289.90h-3.2" stroke="#6b6b6b" stroke-width="0.8" fill="none"/>
<text transform="translate(24.40,510.3) scale(1,1.12)" class="tl" text-anchor="middle">0.1</text>
<text transform="translate(67.71,510.3) scale(1,1.12)" class="tl" text-anchor="middle">0.2</text>
<text transform="translate(111.03,510.3) scale(1,1.12)" class="tl" text-anchor="middle">0.3</text>
<text transform="translate(154.34,510.3) scale(1,1.12)" class="tl" text-anchor="middle">0.4</text>
<text transform="translate(197.66,510.3) scale(1,1.12)" class="tl" text-anchor="middle">0.5</text>
<text transform="translate(240.97,510.3) scale(1,1.12)" class="tl" text-anchor="middle">0.6</text>
<text transform="translate(284.29,510.3) scale(1,1.12)" class="tl" text-anchor="middle">0.7</text>
<text transform="translate(327.60,510.3) scale(1,1.12)" class="tl" text-anchor="middle">0.8</text>
<text transform="translate(21.0,502.00) scale(1,1.12)" class="tl" text-anchor="end">10</text>
<text transform="translate(21.0,460.16) scale(1,1.12)" class="tl" text-anchor="end">15</text>
<text transform="translate(21.0,418.32) scale(1,1.12)" class="tl" text-anchor="end">20</text>
<text transform="translate(21.0,376.48) scale(1,1.12)" class="tl" text-anchor="end">25</text>
<text transform="translate(21.0,334.64) scale(1,1.12)" class="tl" text-anchor="end">30</text>
<text transform="translate(21.0,292.80) scale(1,1.12)" class="tl" text-anchor="end">35</text>
<polyline points="24.40,498.93 67.71,481.69 111.03,397.01 154.34,385.30 197.66,375.84 240.97,363.87 284.29,349.15 327.60,332.58" fill="none" stroke="#000000" stroke-width="1.6" stroke-dasharray="4.6 1.6 1.6 1.6" stroke-linejoin="round"/>
<path d="M24.40,496.28 L26.69,500.26 L22.11,500.26 Z" fill="none" stroke="#000000" stroke-width="1.5" stroke-linejoin="miter"/>
<path d="M67.71,479.04 L70.01,483.02 L65.42,483.02 Z" fill="none" stroke="#000000" stroke-width="1.5" stroke-linejoin="miter"/>
<path d="M111.03,394.36 L113.32,398.34 L108.73,398.34 Z" fill="none" stroke="#000000" stroke-width="1.5" stroke-linejoin="miter"/>
<path d="M154.34,382.65 L156.64,386.62 L152.05,386.62 Z" fill="none" stroke="#000000" stroke-width="1.5" stroke-linejoin="miter"/>
<path d="M197.66,373.19 L199.95,377.16 L195.36,377.16 Z" fill="none" stroke="#000000" stroke-width="1.5" stroke-linejoin="miter"/>
<path d="M240.97,361.22 L243.27,365.20 L238.68,365.20 Z" fill="none" stroke="#000000" stroke-width="1.5" stroke-linejoin="miter"/>
<path d="M284.29,346.50 L286.58,350.47 L281.99,350.47 Z" fill="none" stroke="#000000" stroke-width="1.5" stroke-linejoin="miter"/>
<path d="M327.60,329.93 L329.89,333.90 L325.31,333.90 Z" fill="none" stroke="#000000" stroke-width="1.5" stroke-linejoin="miter"/>
<polyline points="24.40,410.98 67.71,396.42 111.03,385.13 154.34,376.17 197.66,363.87 240.97,351.24 284.29,335.92 327.60,318.60" fill="none" stroke="#0000FF" stroke-width="1.6" stroke-linejoin="round"/>
<path d="M21.75,410.98 L25.72,408.69 L25.72,413.28 Z" fill="none" stroke="#0000FF" stroke-width="1.5" stroke-linejoin="miter"/>
<path d="M65.06,396.42 L69.04,394.13 L69.04,398.72 Z" fill="none" stroke="#0000FF" stroke-width="1.5" stroke-linejoin="miter"/>
<path d="M108.38,385.13 L112.35,382.83 L112.35,387.42 Z" fill="none" stroke="#0000FF" stroke-width="1.5" stroke-linejoin="miter"/>
<path d="M151.69,376.17 L155.67,373.88 L155.67,378.47 Z" fill="none" stroke="#0000FF" stroke-width="1.5" stroke-linejoin="miter"/>
<path d="M195.01,363.87 L198.98,361.58 L198.98,366.17 Z" fill="none" stroke="#0000FF" stroke-width="1.5" stroke-linejoin="miter"/>
<path d="M238.32,351.24 L242.30,348.94 L242.30,353.53 Z" fill="none" stroke="#0000FF" stroke-width="1.5" stroke-linejoin="miter"/>
<path d="M281.64,335.92 L285.61,333.63 L285.61,338.22 Z" fill="none" stroke="#0000FF" stroke-width="1.5" stroke-linejoin="miter"/>
<path d="M324.95,318.60 L328.93,316.31 L328.93,320.90 Z" fill="none" stroke="#0000FF" stroke-width="1.5" stroke-linejoin="miter"/>
<polyline points="24.40,421.86 67.71,424.46 111.03,402.87 154.34,399.94 197.66,394.92 240.97,392.58 284.29,386.72 327.60,384.21" fill="none" stroke="#77AC30" stroke-width="1.6" stroke-dasharray="4.6 1.6 1.6 1.6" stroke-linejoin="round"/>
<path d="M24.40,418.46 L25.35,420.22 L27.34,420.16 L26.30,421.86 L27.34,423.56 L25.35,423.51 L24.40,425.26 L23.45,423.51 L21.46,423.56 L22.50,421.86 L21.46,420.16 L23.45,420.22 Z" fill="#77AC30" stroke="#77AC30" stroke-width="0.8" stroke-linejoin="miter"/>
<path d="M67.71,421.06 L68.66,422.81 L70.66,422.76 L69.61,424.46 L70.66,426.16 L68.66,426.10 L67.71,427.86 L66.76,426.10 L64.77,426.16 L65.81,424.46 L64.77,422.76 L66.76,422.81 Z" fill="#77AC30" stroke="#77AC30" stroke-width="0.8" stroke-linejoin="miter"/>
<path d="M111.03,399.47 L111.98,401.22 L113.97,401.17 L112.93,402.87 L113.97,404.57 L111.98,404.51 L111.03,406.27 L110.08,404.51 L108.08,404.57 L109.13,402.87 L108.08,401.17 L110.08,401.22 Z" fill="#77AC30" stroke="#77AC30" stroke-width="0.8" stroke-linejoin="miter"/>
<path d="M154.34,396.54 L155.29,398.29 L157.29,398.24 L156.24,399.94 L157.29,401.64 L155.29,401.58 L154.34,403.34 L153.39,401.58 L151.40,401.64 L152.44,399.94 L151.40,398.24 L153.39,398.29 Z" fill="#77AC30" stroke="#77AC30" stroke-width="0.8" stroke-linejoin="miter"/>
<path d="M197.66,391.52 L198.61,393.27 L200.60,393.22 L199.56,394.92 L200.60,396.62 L198.61,396.56 L197.66,398.32 L196.71,396.56 L194.71,396.62 L195.76,394.92 L194.71,393.22 L196.71,393.27 Z" fill="#77AC30" stroke="#77AC30" stroke-width="0.8" stroke-linejoin="miter"/>
<path d="M240.97,389.18 L241.92,390.93 L243.92,390.88 L242.87,392.58 L243.92,394.28 L241.92,394.22 L240.97,395.98 L240.02,394.22 L238.03,394.28 L239.07,392.58 L238.03,390.88 L240.02,390.93 Z" fill="#77AC30" stroke="#77AC30" stroke-width="0.8" stroke-linejoin="miter"/>
<path d="M284.29,383.32 L285.24,385.07 L287.23,385.02 L286.19,386.72 L287.23,388.42 L285.24,388.36 L284.29,390.12 L283.34,388.36 L281.34,388.42 L282.39,386.72 L281.34,385.02 L283.34,385.07 Z" fill="#77AC30" stroke="#77AC30" stroke-width="0.8" stroke-linejoin="miter"/>
<path d="M327.60,380.81 L328.55,382.56 L330.54,382.51 L329.50,384.21 L330.54,385.91 L328.55,385.85 L327.60,387.61 L326.65,385.85 L324.66,385.91 L325.70,384.21 L324.66,382.51 L326.65,382.56 Z" fill="#77AC30" stroke="#77AC30" stroke-width="0.8" stroke-linejoin="miter"/>
<polyline points="24.40,439.69 67.71,404.79 111.03,400.36 154.34,398.43 197.66,391.82 240.97,391.07 284.29,382.87 327.60,382.20" fill="none" stroke="#AA44FF" stroke-width="1.6" stroke-linejoin="round"/>
<path d="M24.40,435.59 L25.37,438.35 L28.30,438.42 L25.97,440.20 L26.81,443.00 L24.40,441.34 L21.99,443.00 L22.83,440.20 L20.50,438.42 L23.43,438.35 Z" fill="#AA44FF" stroke="#AA44FF" stroke-width="0.8" stroke-linejoin="miter"/>
<path d="M67.71,400.69 L68.68,403.46 L71.61,403.53 L69.28,405.30 L70.12,408.11 L67.71,406.44 L65.30,408.11 L66.15,405.30 L63.81,403.53 L66.74,403.46 Z" fill="#AA44FF" stroke="#AA44FF" stroke-width="0.8" stroke-linejoin="miter"/>
<path d="M111.03,396.26 L112.00,399.02 L114.93,399.09 L112.60,400.87 L113.44,403.67 L111.03,402.01 L108.62,403.67 L109.46,400.87 L107.13,399.09 L110.06,399.02 Z" fill="#AA44FF" stroke="#AA44FF" stroke-width="0.8" stroke-linejoin="miter"/>
<path d="M154.34,394.33 L155.31,397.10 L158.24,397.17 L155.91,398.94 L156.75,401.75 L154.34,400.08 L151.93,401.75 L152.77,398.94 L150.44,397.17 L153.37,397.10 Z" fill="#AA44FF" stroke="#AA44FF" stroke-width="0.8" stroke-linejoin="miter"/>
<path d="M197.66,387.72 L198.63,390.49 L201.56,390.56 L199.23,392.33 L200.07,395.14 L197.66,393.47 L195.25,395.14 L196.09,392.33 L193.76,390.56 L196.69,390.49 Z" fill="#AA44FF" stroke="#AA44FF" stroke-width="0.8" stroke-linejoin="miter"/>
<path d="M240.97,386.97 L241.94,389.73 L244.87,389.80 L242.54,391.58 L243.38,394.39 L240.97,392.72 L238.56,394.39 L239.40,391.58 L237.07,389.80 L240.00,389.73 Z" fill="#AA44FF" stroke="#AA44FF" stroke-width="0.8" stroke-linejoin="miter"/>
<path d="M284.29,378.77 L285.26,381.53 L288.19,381.60 L285.85,383.38 L286.70,386.19 L284.29,384.52 L281.88,386.19 L282.72,383.38 L280.39,381.60 L283.32,381.53 Z" fill="#AA44FF" stroke="#AA44FF" stroke-width="0.8" stroke-linejoin="miter"/>
<path d="M327.60,378.10 L328.57,380.86 L331.50,380.93 L329.17,382.71 L330.01,385.52 L327.60,383.85 L325.19,385.52 L326.03,382.71 L323.70,380.93 L326.63,380.86 Z" fill="#AA44FF" stroke="#AA44FF" stroke-width="0.8" stroke-linejoin="miter"/>
<polyline points="24.40,400.61 67.71,391.49 111.03,383.12 154.34,375.00 197.66,366.38 240.97,356.68 284.29,344.79 327.60,328.81" fill="none" stroke="#D95319" stroke-width="1.6" stroke-dasharray="4.6 1.6 1.6 1.6" stroke-linejoin="round"/>
<path d="M27.05,400.61 L23.07,402.90 L23.07,398.31 Z" fill="none" stroke="#D95319" stroke-width="1.5" stroke-linejoin="miter"/>
<path d="M70.36,391.49 L66.39,393.78 L66.39,389.19 Z" fill="none" stroke="#D95319" stroke-width="1.5" stroke-linejoin="miter"/>
<path d="M113.68,383.12 L109.70,385.41 L109.70,380.82 Z" fill="none" stroke="#D95319" stroke-width="1.5" stroke-linejoin="miter"/>
<path d="M156.99,375.00 L153.02,377.30 L153.02,372.71 Z" fill="none" stroke="#D95319" stroke-width="1.5" stroke-linejoin="miter"/>
<path d="M200.31,366.38 L196.33,368.68 L196.33,364.09 Z" fill="none" stroke="#D95319" stroke-width="1.5" stroke-linejoin="miter"/>
<path d="M243.62,356.68 L239.65,358.97 L239.65,354.38 Z" fill="none" stroke="#D95319" stroke-width="1.5" stroke-linejoin="miter"/>
<path d="M286.94,344.79 L282.96,347.09 L282.96,342.50 Z" fill="none" stroke="#D95319" stroke-width="1.5" stroke-linejoin="miter"/>
<path d="M330.25,328.81 L326.28,331.11 L326.28,326.52 Z" fill="none" stroke="#D95319" stroke-width="1.5" stroke-linejoin="miter"/>
<polyline points="24.40,396.17 67.71,387.39 111.03,379.77 154.34,372.91 197.66,363.87 240.97,355.51 284.29,344.04 327.60,330.07" fill="none" stroke="#7E2F8E" stroke-width="1.6" stroke-linejoin="round"/>
<path d="M24.40,398.82 L22.11,394.85 L26.69,394.85 Z" fill="none" stroke="#7E2F8E" stroke-width="1.5" stroke-linejoin="miter"/>
<path d="M67.71,390.04 L65.42,386.06 L70.01,386.06 Z" fill="none" stroke="#7E2F8E" stroke-width="1.5" stroke-linejoin="miter"/>
<path d="M111.03,382.42 L108.73,378.45 L113.32,378.45 Z" fill="none" stroke="#7E2F8E" stroke-width="1.5" stroke-linejoin="miter"/>
<path d="M154.34,375.56 L152.05,371.59 L156.64,371.59 Z" fill="none" stroke="#7E2F8E" stroke-width="1.5" stroke-linejoin="miter"/>
<path d="M197.66,366.52 L195.36,362.55 L199.95,362.55 Z" fill="none" stroke="#7E2F8E" stroke-width="1.5" stroke-linejoin="miter"/>
<path d="M240.97,358.16 L238.68,354.18 L243.27,354.18 Z" fill="none" stroke="#7E2F8E" stroke-width="1.5" stroke-linejoin="miter"/>
<path d="M284.29,346.69 L281.99,342.72 L286.58,342.72 Z" fill="none" stroke="#7E2F8E" stroke-width="1.5" stroke-linejoin="miter"/>
<path d="M327.60,332.72 L325.31,328.74 L329.89,328.74 Z" fill="none" stroke="#7E2F8E" stroke-width="1.5" stroke-linejoin="miter"/>
<polyline points="24.40,399.60 67.71,386.89 111.03,376.68 154.34,366.63 197.66,355.51 240.97,344.04 284.29,329.56 327.60,312.49" fill="none" stroke="#FF0000" stroke-width="1.6" stroke-dasharray="1.1 1.2" stroke-linejoin="round"/>
<rect x="22.45" y="397.65" width="3.90" height="3.90" fill="none" stroke="#FF0000" stroke-width="1.5"/>
<rect x="65.76" y="384.94" width="3.90" height="3.90" fill="none" stroke="#FF0000" stroke-width="1.5"/>
<rect x="109.08" y="374.73" width="3.90" height="3.90" fill="none" stroke="#FF0000" stroke-width="1.5"/>
<rect x="152.39" y="364.68" width="3.90" height="3.90" fill="none" stroke="#FF0000" stroke-width="1.5"/>
<rect x="195.71" y="353.56" width="3.90" height="3.90" fill="none" stroke="#FF0000" stroke-width="1.5"/>
<rect x="239.02" y="342.09" width="3.90" height="3.90" fill="none" stroke="#FF0000" stroke-width="1.5"/>
<rect x="282.34" y="327.61" width="3.90" height="3.90" fill="none" stroke="#FF0000" stroke-width="1.5"/>
<rect x="325.65" y="310.54" width="3.90" height="3.90" fill="none" stroke="#FF0000" stroke-width="1.5"/>
<polyline points="24.40,394.83 67.71,382.78 111.03,371.74 154.34,360.19 197.66,348.14 240.97,335.42 284.29,319.44 327.60,302.87" fill="none" stroke="#00FF00" stroke-width="1.6" stroke-linejoin="round"/>
<circle cx="24.40" cy="394.83" r="2.30" fill="none" stroke="#00FF00" stroke-width="1.5"/>
<circle cx="67.71" cy="382.78" r="2.30" fill="none" stroke="#00FF00" stroke-width="1.5"/>
<circle cx="111.03" cy="371.74" r="2.30" fill="none" stroke="#00FF00" stroke-width="1.5"/>
<circle cx="154.34" cy="360.19" r="2.30" fill="none" stroke="#00FF00" stroke-width="1.5"/>
<circle cx="197.66" cy="348.14" r="2.30" fill="none" stroke="#00FF00" stroke-width="1.5"/>
<circle cx="240.97" cy="335.42" r="2.30" fill="none" stroke="#00FF00" stroke-width="1.5"/>
<circle cx="284.29" cy="319.44" r="2.30" fill="none" stroke="#00FF00" stroke-width="1.5"/>
<circle cx="327.60" cy="302.87" r="2.30" fill="none" stroke="#00FF00" stroke-width="1.5"/>
<rect x="154.3" y="420.3" width="170.60" height="75.90" fill="#fff" stroke="#6b6b6b" stroke-width="0.9"/>
<line x1="156.90" y1="426.40" x2="179.10" y2="426.40" stroke="#000000" stroke-width="1.6" stroke-dasharray="4.6 1.6 1.6 1.6"/>
<path d="M168.00,423.75 L170.29,427.73 L165.71,427.73 Z" fill="none" stroke="#000000" stroke-width="1.5" stroke-linejoin="miter"/>
<text transform="translate(180.70,428.95) scale(1,1.1)" class="lg" style="font-size:6.72px">2D-SL0 without Chaotic Confusion</text>
<line x1="156.90" y1="435.59" x2="179.10" y2="435.59" stroke="#0000FF" stroke-width="1.6"/>
<path d="M165.35,435.59 L169.32,433.30 L169.32,437.88 Z" fill="none" stroke="#0000FF" stroke-width="1.5" stroke-linejoin="miter"/>
<text transform="translate(180.70,438.14) scale(1,1.1)" class="lg" style="font-size:6.72px">2D-SL0 with Chaotic Confusion</text>
<line x1="156.90" y1="444.78" x2="179.10" y2="444.78" stroke="#77AC30" stroke-width="1.6" stroke-dasharray="4.6 1.6 1.6 1.6"/>
<path d="M168.00,441.38 L168.95,443.13 L170.94,443.08 L169.90,444.78 L170.94,446.48 L168.95,446.43 L168.00,448.18 L167.05,446.43 L165.06,446.48 L166.10,444.78 L165.06,443.08 L167.05,443.13 Z" fill="#77AC30" stroke="#77AC30" stroke-width="0.8" stroke-linejoin="miter"/>
<text transform="translate(180.70,447.33) scale(1,1.1)" class="lg" style="font-size:6.72px">2DOMP without Chaotic Confusion</text>
<line x1="156.90" y1="453.97" x2="179.10" y2="453.97" stroke="#AA44FF" stroke-width="1.6"/>
<path d="M168.00,449.87 L168.97,452.64 L171.90,452.70 L169.57,454.48 L170.41,457.29 L168.00,455.62 L165.59,457.29 L166.43,454.48 L164.10,452.70 L167.03,452.64 Z" fill="#AA44FF" stroke="#AA44FF" stroke-width="0.8" stroke-linejoin="miter"/>
<text transform="translate(180.70,456.52) scale(1,1.1)" class="lg" style="font-size:6.72px">2DOMP with Chaotic Confusion</text>
<line x1="156.90" y1="463.16" x2="179.10" y2="463.16" stroke="#D95319" stroke-width="1.6" stroke-dasharray="4.6 1.6 1.6 1.6"/>
<path d="M170.65,463.16 L166.68,465.45 L166.68,460.87 Z" fill="none" stroke="#D95319" stroke-width="1.5" stroke-linejoin="miter"/>
<text transform="translate(180.70,465.71) scale(1,1.1)" class="lg" style="font-size:6.72px">2DPG without Chaotic Confusion</text>
<line x1="156.90" y1="472.35" x2="179.10" y2="472.35" stroke="#7E2F8E" stroke-width="1.6"/>
<path d="M168.00,475.00 L165.71,471.03 L170.29,471.03 Z" fill="none" stroke="#7E2F8E" stroke-width="1.5" stroke-linejoin="miter"/>
<text transform="translate(180.70,474.90) scale(1,1.1)" class="lg" style="font-size:6.72px">2DPG with Chaotic Confusion</text>
<line x1="156.90" y1="481.54" x2="179.10" y2="481.54" stroke="#FF0000" stroke-width="1.6" stroke-dasharray="1.1 1.2"/>
<rect x="166.05" y="479.59" width="3.90" height="3.90" fill="none" stroke="#FF0000" stroke-width="1.5"/>
<text transform="translate(180.70,484.09) scale(1,1.1)" class="lg" style="font-size:6.72px">2D-SL0 with TV, and without Chaotic Confusion</text>
<line x1="156.90" y1="490.73" x2="179.10" y2="490.73" stroke="#00FF00" stroke-width="1.6"/>
<circle cx="168.00" cy="490.73" r="2.30" fill="none" stroke="#00FF00" stroke-width="1.5"/>
<text transform="translate(180.70,493.28) scale(1,1.1)" class="lg" style="font-size:6.72px">Proposed Method</text>
<text x="176.00" y="286.3" class="ti" text-anchor="middle">Baboon Image</text>
<text x="176.00" y="520.9" class="al" text-anchor="middle">Compression Ratio</text>
<text x="0" y="0" class="al" text-anchor="middle" transform="translate(8.7,394.50) rotate(-90)">PSNR (dB)</text>
</g>
<text x="173.0" y="538.1" class="cap" text-anchor="middle">(c)</text>
<clipPath id="cpd"><rect x="334" y="270" width="335" height="272"/></clipPath>
<g clip-path="url(#cpd)">
<rect x="361.4" y="290.0" width="302.10" height="209.40" fill="#fff" stroke="#6b6b6b" stroke-width="0.9"/>
<path d="M361.40,499.40v-3.2M361.40,290.00v3.2M404.56,499.40v-3.2M404.56,290.00v3.2M447.71,499.40v-3.2M447.71,290.00v3.2M490.87,499.40v-3.2M490.87,290.00v3.2M534.03,499.40v-3.2M534.03,290.00v3.2M577.19,499.40v-3.2M577.19,290.00v3.2M620.34,499.40v-3.2M620.34,290.00v3.2M663.50,499.40v-3.2M663.50,290.00v3.2M361.40,499.40h3.2M663.50,499.40h-3.2M361.40,457.52h3.2M663.50,457.52h-3.2M361.40,415.64h3.2M663.50,415.64h-3.2M361.40,373.76h3.2M663.50,373.76h-3.2M361.40,331.88h3.2M663.50,331.88h-3.2M361.40,290.00h3.2M663.50,290.00h-3.2" stroke="#6b6b6b" stroke-width="0.8" fill="none"/>
<text transform="translate(361.40,510.2) scale(1,1.12)" class="tl" text-anchor="middle">0.1</text>
<text transform="translate(404.56,510.2) scale(1,1.12)" class="tl" text-anchor="middle">0.2</text>
<text transform="translate(447.71,510.2) scale(1,1.12)" class="tl" text-anchor="middle">0.3</text>
<text transform="translate(490.87,510.2) scale(1,1.12)" class="tl" text-anchor="middle">0.4</text>
<text transform="translate(534.03,510.2) scale(1,1.12)" class="tl" text-anchor="middle">0.5</text>
<text transform="translate(577.19,510.2) scale(1,1.12)" class="tl" text-anchor="middle">0.6</text>
<text transform="translate(620.34,510.2) scale(1,1.12)" class="tl" text-anchor="middle">0.7</text>
<text transform="translate(663.50,510.2) scale(1,1.12)" class="tl" text-anchor="middle">0.8</text>
<text transform="translate(357.8,502.30) scale(1,1.12)" class="tl" text-anchor="end">15</text>
<text transform="translate(357.8,460.42) scale(1,1.12)" class="tl" text-anchor="end">20</text>
<text transform="translate(357.8,418.54) scale(1,1.12)" class="tl" text-anchor="end">25</text>
<text transform="translate(357.8,376.66) scale(1,1.12)" class="tl" text-anchor="end">30</text>
<text transform="translate(357.8,334.78) scale(1,1.12)" class="tl" text-anchor="end">35</text>
<text transform="translate(357.8,292.90) scale(1,1.12)" class="tl" text-anchor="end">40</text>
<polyline points="361.40,484.24 404.56,456.18 447.71,431.30 490.87,413.04 534.03,394.36 577.19,375.27 620.34,352.90 663.50,330.12" fill="none" stroke="#000000" stroke-width="1.6" stroke-dasharray="4.6 1.6 1.6 1.6" stroke-linejoin="round"/>
<path d="M361.40,481.59 L363.69,485.56 L359.11,485.56 Z" fill="none" stroke="#000000" stroke-width="1.5" stroke-linejoin="miter"/>
<path d="M404.56,453.53 L406.85,457.50 L402.26,457.50 Z" fill="none" stroke="#000000" stroke-width="1.5" stroke-linejoin="miter"/>
<path d="M447.71,428.65 L450.01,432.63 L445.42,432.63 Z" fill="none" stroke="#000000" stroke-width="1.5" stroke-linejoin="miter"/>
<path d="M490.87,410.39 L493.17,414.37 L488.58,414.37 Z" fill="none" stroke="#000000" stroke-width="1.5" stroke-linejoin="miter"/>
<path d="M534.03,391.71 L536.32,395.69 L531.73,395.69 Z" fill="none" stroke="#000000" stroke-width="1.5" stroke-linejoin="miter"/>
<path d="M577.19,372.62 L579.48,376.59 L574.89,376.59 Z" fill="none" stroke="#000000" stroke-width="1.5" stroke-linejoin="miter"/>
<path d="M620.34,350.25 L622.64,354.23 L618.05,354.23 Z" fill="none" stroke="#000000" stroke-width="1.5" stroke-linejoin="miter"/>
<path d="M663.50,327.47 L665.79,331.45 L661.21,331.45 Z" fill="none" stroke="#000000" stroke-width="1.5" stroke-linejoin="miter"/>
<polyline points="361.40,472.01 404.56,439.01 447.71,414.30 490.87,395.20 534.03,374.51 577.19,357.51 620.34,335.90 663.50,315.63" fill="none" stroke="#0000FF" stroke-width="1.6" stroke-linejoin="round"/>
<path d="M358.75,472.01 L362.72,469.72 L362.72,474.31 Z" fill="none" stroke="#0000FF" stroke-width="1.5" stroke-linejoin="miter"/>
<path d="M401.91,439.01 L405.88,436.71 L405.88,441.30 Z" fill="none" stroke="#0000FF" stroke-width="1.5" stroke-linejoin="miter"/>
<path d="M445.06,414.30 L449.04,412.00 L449.04,416.59 Z" fill="none" stroke="#0000FF" stroke-width="1.5" stroke-linejoin="miter"/>
<path d="M488.22,395.20 L492.20,392.91 L492.20,397.50 Z" fill="none" stroke="#0000FF" stroke-width="1.5" stroke-linejoin="miter"/>
<path d="M531.38,374.51 L535.35,372.22 L535.35,376.81 Z" fill="none" stroke="#0000FF" stroke-width="1.5" stroke-linejoin="miter"/>
<path d="M574.54,357.51 L578.51,355.22 L578.51,359.81 Z" fill="none" stroke="#0000FF" stroke-width="1.5" stroke-linejoin="miter"/>
<path d="M617.69,335.90 L621.67,333.61 L621.67,338.20 Z" fill="none" stroke="#0000FF" stroke-width="1.5" stroke-linejoin="miter"/>
<path d="M660.85,315.63 L664.83,313.34 L664.83,317.93 Z" fill="none" stroke="#0000FF" stroke-width="1.5" stroke-linejoin="miter"/>
<polyline points="361.40,490.02 404.56,468.91 447.71,461.79 490.87,460.03 534.03,441.02 577.19,440.27 620.34,419.41 663.50,417.57" fill="none" stroke="#77AC30" stroke-width="1.6" stroke-dasharray="4.6 1.6 1.6 1.6" stroke-linejoin="round"/>
<path d="M361.40,486.62 L362.35,488.37 L364.34,488.32 L363.30,490.02 L364.34,491.72 L362.35,491.66 L361.40,493.42 L360.45,491.66 L358.46,491.72 L359.50,490.02 L358.46,488.32 L360.45,488.37 Z" fill="#77AC30" stroke="#77AC30" stroke-width="0.8" stroke-linejoin="miter"/>
<path d="M404.56,465.51 L405.51,467.27 L407.50,467.21 L406.46,468.91 L407.50,470.61 L405.51,470.56 L404.56,472.31 L403.61,470.56 L401.61,470.61 L402.66,468.91 L401.61,467.21 L403.61,467.27 Z" fill="#77AC30" stroke="#77AC30" stroke-width="0.8" stroke-linejoin="miter"/>
<path d="M447.71,458.39 L448.66,460.15 L450.66,460.09 L449.61,461.79 L450.66,463.49 L448.66,463.44 L447.71,465.19 L446.76,463.44 L444.77,463.49 L445.81,461.79 L444.77,460.09 L446.76,460.15 Z" fill="#77AC30" stroke="#77AC30" stroke-width="0.8" stroke-linejoin="miter"/>
<path d="M490.87,456.63 L491.82,458.39 L493.82,458.33 L492.77,460.03 L493.82,461.73 L491.82,461.68 L490.87,463.43 L489.92,461.68 L487.93,461.73 L488.97,460.03 L487.93,458.33 L489.92,458.39 Z" fill="#77AC30" stroke="#77AC30" stroke-width="0.8" stroke-linejoin="miter"/>
<path d="M534.03,437.62 L534.98,439.37 L536.97,439.32 L535.93,441.02 L536.97,442.72 L534.98,442.66 L534.03,444.42 L533.08,442.66 L531.08,442.72 L532.13,441.02 L531.08,439.32 L533.08,439.37 Z" fill="#77AC30" stroke="#77AC30" stroke-width="0.8" stroke-linejoin="miter"/>
<path d="M577.19,436.87 L578.14,438.62 L580.13,438.57 L579.09,440.27 L580.13,441.97 L578.14,441.91 L577.19,443.67 L576.24,441.91 L574.24,441.97 L575.29,440.27 L574.24,438.57 L576.24,438.62 Z" fill="#77AC30" stroke="#77AC30" stroke-width="0.8" stroke-linejoin="miter"/>
<path d="M620.34,416.01 L621.29,417.76 L623.29,417.71 L622.24,419.41 L623.29,421.11 L621.29,421.05 L620.34,422.81 L619.39,421.05 L617.40,421.11 L618.44,419.41 L617.40,417.71 L619.39,417.76 Z" fill="#77AC30" stroke="#77AC30" stroke-width="0.8" stroke-linejoin="miter"/>
<path d="M663.50,414.17 L664.45,415.92 L666.44,415.87 L665.40,417.57 L666.44,419.27 L664.45,419.21 L663.50,420.97 L662.55,419.21 L660.56,419.27 L661.60,417.57 L660.56,415.87 L662.55,415.92 Z" fill="#77AC30" stroke="#77AC30" stroke-width="0.8" stroke-linejoin="miter"/>
<polyline points="361.40,477.12 404.56,459.53 447.71,458.02 490.87,456.68 534.03,438.51 577.19,437.92 620.34,416.81 663.50,416.14" fill="none" stroke="#AA44FF" stroke-width="1.6" stroke-linejoin="round"/>
<path d="M361.40,473.02 L362.37,475.78 L365.30,475.85 L362.97,477.63 L363.81,480.44 L361.40,478.77 L358.99,480.44 L359.83,477.63 L357.50,475.85 L360.43,475.78 Z" fill="#AA44FF" stroke="#AA44FF" stroke-width="0.8" stroke-linejoin="miter"/>
<path d="M404.56,455.43 L405.53,458.20 L408.46,458.26 L406.13,460.04 L406.97,462.85 L404.56,461.18 L402.15,462.85 L402.99,460.04 L400.66,458.26 L403.59,458.20 Z" fill="#AA44FF" stroke="#AA44FF" stroke-width="0.8" stroke-linejoin="miter"/>
<path d="M447.71,453.92 L448.68,456.69 L451.61,456.76 L449.28,458.53 L450.12,461.34 L447.71,459.67 L445.30,461.34 L446.15,458.53 L443.81,456.76 L446.74,456.69 Z" fill="#AA44FF" stroke="#AA44FF" stroke-width="0.8" stroke-linejoin="miter"/>
<path d="M490.87,452.58 L491.84,455.35 L494.77,455.42 L492.44,457.19 L493.28,460.00 L490.87,458.33 L488.46,460.00 L489.30,457.19 L486.97,455.42 L489.90,455.35 Z" fill="#AA44FF" stroke="#AA44FF" stroke-width="0.8" stroke-linejoin="miter"/>
<path d="M534.03,434.41 L535.00,437.17 L537.93,437.24 L535.60,439.02 L536.44,441.82 L534.03,440.16 L531.62,441.82 L532.46,439.02 L530.13,437.24 L533.06,437.17 Z" fill="#AA44FF" stroke="#AA44FF" stroke-width="0.8" stroke-linejoin="miter"/>
<path d="M577.19,433.82 L578.16,436.59 L581.09,436.65 L578.75,438.43 L579.60,441.24 L577.19,439.57 L574.78,441.24 L575.62,438.43 L573.29,436.65 L576.22,436.59 Z" fill="#AA44FF" stroke="#AA44FF" stroke-width="0.8" stroke-linejoin="miter"/>
<path d="M620.34,412.71 L621.31,415.48 L624.24,415.55 L621.91,417.32 L622.75,420.13 L620.34,418.46 L617.93,420.13 L618.77,417.32 L616.44,415.55 L619.37,415.48 Z" fill="#AA44FF" stroke="#AA44FF" stroke-width="0.8" stroke-linejoin="miter"/>
<path d="M663.50,412.04 L664.47,414.81 L667.40,414.88 L665.07,416.65 L665.91,419.46 L663.50,417.79 L661.09,419.46 L661.93,416.65 L659.60,414.88 L662.53,414.81 Z" fill="#AA44FF" stroke="#AA44FF" stroke-width="0.8" stroke-linejoin="miter"/>
<polyline points="361.40,433.40 404.56,411.28 447.71,395.04 490.87,382.97 534.03,368.90 577.19,354.16 620.34,337.16 663.50,317.64" fill="none" stroke="#D95319" stroke-width="1.6" stroke-dasharray="4.6 1.6 1.6 1.6" stroke-linejoin="round"/>
<path d="M364.05,433.40 L360.07,435.69 L360.07,431.10 Z" fill="none" stroke="#D95319" stroke-width="1.5" stroke-linejoin="miter"/>
<path d="M407.21,411.28 L403.23,413.58 L403.23,408.99 Z" fill="none" stroke="#D95319" stroke-width="1.5" stroke-linejoin="miter"/>
<path d="M450.36,395.04 L446.39,397.33 L446.39,392.74 Z" fill="none" stroke="#D95319" stroke-width="1.5" stroke-linejoin="miter"/>
<path d="M493.52,382.97 L489.55,385.27 L489.55,380.68 Z" fill="none" stroke="#D95319" stroke-width="1.5" stroke-linejoin="miter"/>
<path d="M536.68,368.90 L532.70,371.20 L532.70,366.61 Z" fill="none" stroke="#D95319" stroke-width="1.5" stroke-linejoin="miter"/>
<path d="M579.84,354.16 L575.86,356.46 L575.86,351.87 Z" fill="none" stroke="#D95319" stroke-width="1.5" stroke-linejoin="miter"/>
<path d="M622.99,337.16 L619.02,339.45 L619.02,334.86 Z" fill="none" stroke="#D95319" stroke-width="1.5" stroke-linejoin="miter"/>
<path d="M666.15,317.64 L662.17,319.94 L662.17,315.35 Z" fill="none" stroke="#D95319" stroke-width="1.5" stroke-linejoin="miter"/>
<polyline points="361.40,425.19 404.56,405.34 447.71,390.34 490.87,378.62 534.03,366.39 577.19,354.16 620.34,337.91 663.50,320.24" fill="none" stroke="#7E2F8E" stroke-width="1.6" stroke-linejoin="round"/>
<path d="M361.40,427.84 L359.11,423.86 L363.69,423.86 Z" fill="none" stroke="#7E2F8E" stroke-width="1.5" stroke-linejoin="miter"/>
<path d="M404.56,407.99 L402.26,404.01 L406.85,404.01 Z" fill="none" stroke="#7E2F8E" stroke-width="1.5" stroke-linejoin="miter"/>
<path d="M447.71,392.99 L445.42,389.02 L450.01,389.02 Z" fill="none" stroke="#7E2F8E" stroke-width="1.5" stroke-linejoin="miter"/>
<path d="M490.87,381.27 L488.58,377.29 L493.17,377.29 Z" fill="none" stroke="#7E2F8E" stroke-width="1.5" stroke-linejoin="miter"/>
<path d="M534.03,369.04 L531.73,365.06 L536.32,365.06 Z" fill="none" stroke="#7E2F8E" stroke-width="1.5" stroke-linejoin="miter"/>
<path d="M577.19,356.81 L574.89,352.84 L579.48,352.84 Z" fill="none" stroke="#7E2F8E" stroke-width="1.5" stroke-linejoin="miter"/>
<path d="M620.34,340.56 L618.05,336.59 L622.64,336.59 Z" fill="none" stroke="#7E2F8E" stroke-width="1.5" stroke-linejoin="miter"/>
<path d="M663.50,322.89 L661.21,318.91 L665.79,318.91 Z" fill="none" stroke="#7E2F8E" stroke-width="1.5" stroke-linejoin="miter"/>
<polyline points="361.40,443.53 404.56,411.03 447.71,389.51 490.87,372.17 534.03,355.50 577.19,339.17 620.34,321.41 663.50,302.40" fill="none" stroke="#FF0000" stroke-width="1.6" stroke-dasharray="1.1 1.2" stroke-linejoin="round"/>
<rect x="359.45" y="441.58" width="3.90" height="3.90" fill="none" stroke="#FF0000" stroke-width="1.5"/>
<rect x="402.61" y="409.08" width="3.90" height="3.90" fill="none" stroke="#FF0000" stroke-width="1.5"/>
<rect x="445.76" y="387.56" width="3.90" height="3.90" fill="none" stroke="#FF0000" stroke-width="1.5"/>
<rect x="488.92" y="370.22" width="3.90" height="3.90" fill="none" stroke="#FF0000" stroke-width="1.5"/>
<rect x="532.08" y="353.55" width="3.90" height="3.90" fill="none" stroke="#FF0000" stroke-width="1.5"/>
<rect x="575.24" y="337.22" width="3.90" height="3.90" fill="none" stroke="#FF0000" stroke-width="1.5"/>
<rect x="618.39" y="319.46" width="3.90" height="3.90" fill="none" stroke="#FF0000" stroke-width="1.5"/>
<rect x="661.55" y="300.45" width="3.90" height="3.90" fill="none" stroke="#FF0000" stroke-width="1.5"/>
<polyline points="361.40,430.30 404.56,398.22 447.71,376.11 490.87,357.85 534.03,341.01 577.19,326.52 620.34,309.68 663.50,295.19" fill="none" stroke="#00FF00" stroke-width="1.6" stroke-linejoin="round"/>
<circle cx="361.40" cy="430.30" r="2.30" fill="none" stroke="#00FF00" stroke-width="1.5"/>
<circle cx="404.56" cy="398.22" r="2.30" fill="none" stroke="#00FF00" stroke-width="1.5"/>
<circle cx="447.71" cy="376.11" r="2.30" fill="none" stroke="#00FF00" stroke-width="1.5"/>
<circle cx="490.87" cy="357.85" r="2.30" fill="none" stroke="#00FF00" stroke-width="1.5"/>
<circle cx="534.03" cy="341.01" r="2.30" fill="none" stroke="#00FF00" stroke-width="1.5"/>
<circle cx="577.19" cy="326.52" r="2.30" fill="none" stroke="#00FF00" stroke-width="1.5"/>
<circle cx="620.34" cy="309.68" r="2.30" fill="none" stroke="#00FF00" stroke-width="1.5"/>
<circle cx="663.50" cy="295.19" r="2.30" fill="none" stroke="#00FF00" stroke-width="1.5"/>
<rect x="361.4" y="290.4" width="170.00" height="75.80" fill="#fff" stroke="#6b6b6b" stroke-width="0.9"/>
<line x1="364.00" y1="296.40" x2="386.20" y2="296.40" stroke="#000000" stroke-width="1.6" stroke-dasharray="4.6 1.6 1.6 1.6"/>
<path d="M375.10,293.75 L377.39,297.72 L372.81,297.72 Z" fill="none" stroke="#000000" stroke-width="1.5" stroke-linejoin="miter"/>
<text transform="translate(387.80,298.95) scale(1,1.1)" class="lg" style="font-size:6.66px">2D-SL0 without Chaotic Confusion</text>
<line x1="364.00" y1="305.66" x2="386.20" y2="305.66" stroke="#0000FF" stroke-width="1.6"/>
<path d="M372.45,305.66 L376.43,303.37 L376.43,307.95 Z" fill="none" stroke="#0000FF" stroke-width="1.5" stroke-linejoin="miter"/>
<text transform="translate(387.80,308.21) scale(1,1.1)" class="lg" style="font-size:6.66px">2D-SL0 with Chaotic Confusion</text>
<line x1="364.00" y1="314.92" x2="386.20" y2="314.92" stroke="#77AC30" stroke-width="1.6" stroke-dasharray="4.6 1.6 1.6 1.6"/>
<path d="M375.10,311.52 L376.05,313.27 L378.04,313.22 L377.00,314.92 L378.04,316.62 L376.05,316.57 L375.10,318.32 L374.15,316.57 L372.16,316.62 L373.20,314.92 L372.16,313.22 L374.15,313.27 Z" fill="#77AC30" stroke="#77AC30" stroke-width="0.8" stroke-linejoin="miter"/>
<text transform="translate(387.80,317.47) scale(1,1.1)" class="lg" style="font-size:6.66px">2DOMP without Chaotic Confusion</text>
<line x1="364.00" y1="324.18" x2="386.20" y2="324.18" stroke="#AA44FF" stroke-width="1.6"/>
<path d="M375.10,320.08 L376.07,322.85 L379.00,322.91 L376.67,324.69 L377.51,327.50 L375.10,325.83 L372.69,327.50 L373.53,324.69 L371.20,322.91 L374.13,322.85 Z" fill="#AA44FF" stroke="#AA44FF" stroke-width="0.8" stroke-linejoin="miter"/>
<text transform="translate(387.80,326.73) scale(1,1.1)" class="lg" style="font-size:6.66px">2DOMP with Chaotic Confusion</text>
<line x1="364.00" y1="333.44" x2="386.20" y2="333.44" stroke="#D95319" stroke-width="1.6" stroke-dasharray="4.6 1.6 1.6 1.6"/>
<path d="M377.75,333.44 L373.78,335.73 L373.78,331.15 Z" fill="none" stroke="#D95319" stroke-width="1.5" stroke-linejoin="miter"/>
<text transform="translate(387.80,335.99) scale(1,1.1)" class="lg" style="font-size:6.66px">2DPG without Chaotic Confusion</text>
<line x1="364.00" y1="342.70" x2="386.20" y2="342.70" stroke="#7E2F8E" stroke-width="1.6"/>
<path d="M375.10,345.35 L372.81,341.38 L377.39,341.38 Z" fill="none" stroke="#7E2F8E" stroke-width="1.5" stroke-linejoin="miter"/>
<text transform="translate(387.80,345.25) scale(1,1.1)" class="lg" style="font-size:6.66px">2DPG with Chaotic Confusion</text>
<line x1="364.00" y1="351.96" x2="386.20" y2="351.96" stroke="#FF0000" stroke-width="1.6" stroke-dasharray="1.1 1.2"/>
<rect x="373.15" y="350.01" width="3.90" height="3.90" fill="none" stroke="#FF0000" stroke-width="1.5"/>
<text transform="translate(387.80,354.51) scale(1,1.1)" class="lg" style="font-size:6.66px">2D-SL0 with TV, and without Chaotic Confusion</text>
<line x1="364.00" y1="361.22" x2="386.20" y2="361.22" stroke="#00FF00" stroke-width="1.6"/>
<circle cx="375.10" cy="361.22" r="2.30" fill="none" stroke="#00FF00" stroke-width="1.5"/>
<text transform="translate(387.80,363.77) scale(1,1.1)" class="lg" style="font-size:6.66px">Proposed Method</text>
<text x="512.45" y="286.3" class="ti" text-anchor="middle">Brain Image</text>
<text x="512.45" y="520.9" class="al" text-anchor="middle">Compression Ratio</text>
<text x="0" y="0" class="al" text-anchor="middle" transform="translate(345.1,394.70) rotate(-90)">PSNR (dB)</text>
</g>
<text x="513.4" y="538.1" class="cap" text-anchor="middle">(d)</text>
</svg></body></html>
